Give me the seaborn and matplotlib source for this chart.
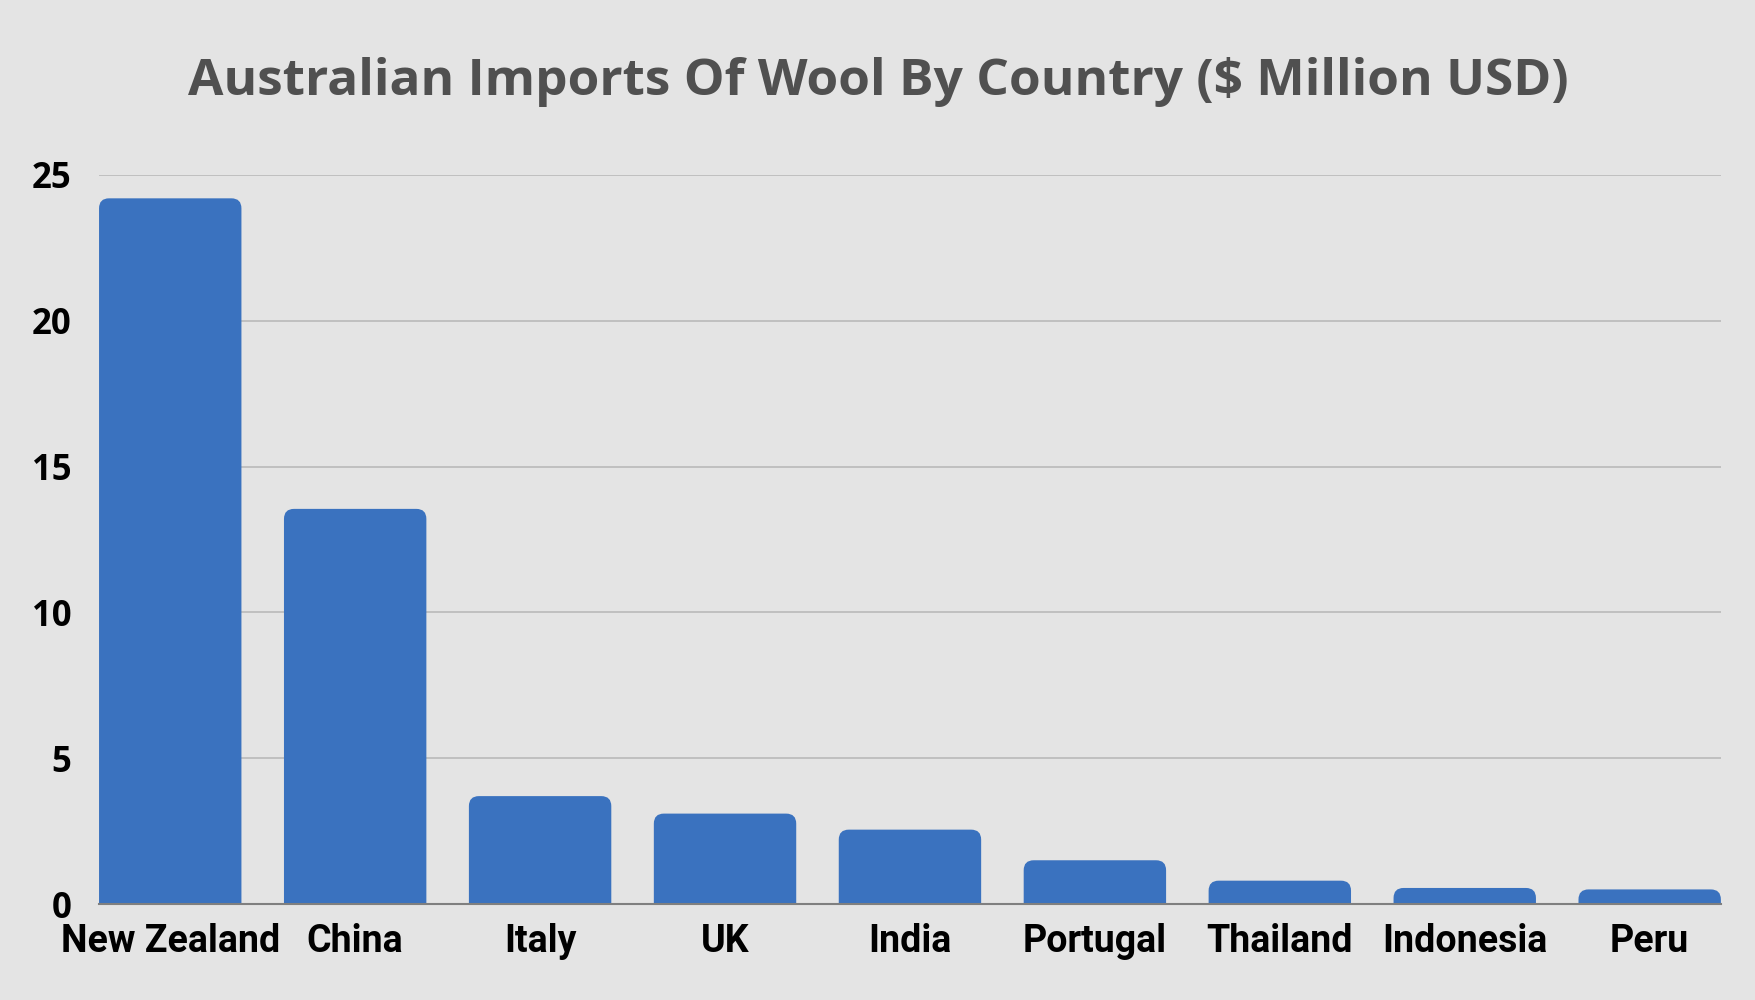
import numpy as np
import pandas as pd
import matplotlib.pyplot as plt
import seaborn as sns
from matplotlib.patches import FancyBboxPatch

# data ($ million USD)
countries = ['New Zealand', 'China', 'Italy', 'UK', 'India', 'Portugal',
             'Thailand', 'Indonesia', 'Peru']
imports = [24.2, 13.55, 3.7, 3.1, 2.55, 1.5, 0.8, 0.55, 0.5]
yticks = [0, 5, 10, 15, 20, 25]

bg = '#e4e4e4'
bar_color = '#3a72bf'

sns.set_style('white')
plt.rcParams['font.family'] = ['Roboto', 'DejaVu Sans']

df = pd.DataFrame({'Country': countries, 'Imports': imports})

fig = plt.figure(figsize=(17.56, 10), dpi=100, facecolor=bg)
ax = fig.add_axes([0.0564, 0.096, 0.9236, 0.729])
ax.set_facecolor(bg)

sns.barplot(data=df, x='Country', y='Imports', color=bar_color,
            width=0.77, saturation=1, ax=ax)

ax.set_xlim(-0.385, len(countries) - 1 + 0.385)
ax.set_ylim(0, 25)
ax.set_yticks(yticks)
ax.set_yticklabels([str(t) for t in yticks])

# swap plain bars for bars with rounded tops
fig.canvas.draw()
inv = ax.transData.inverted()
px_x = abs(inv.transform((1, 0))[0] - inv.transform((0, 0))[0])
px_y = abs(inv.transform((0, 1))[1] - inv.transform((0, 0))[1])
r_px = 10
for p in list(ax.patches):
    x, w, h = p.get_x(), p.get_width(), p.get_height()
    r = min(r_px, h / px_y * 0.9)
    ry = r * px_y
    rb = FancyBboxPatch((x, -ry), w, h + ry,
                        boxstyle=f'round,pad=0,rounding_size={r * px_x}',
                        mutation_aspect=px_y / px_x,
                        facecolor=bar_color, edgecolor='none', zorder=3)
    p.remove()
    ax.add_patch(rb)

ax.grid(axis='y', color='#bdbdbd', linewidth=1.3, zorder=0)
ax.set_axisbelow(True)
for s in ['top', 'right', 'left']:
    ax.spines[s].set_visible(False)
ax.spines['bottom'].set_color('#7f7f7f')
ax.spines['bottom'].set_linewidth(1.5)
ax.spines['bottom'].set_zorder(4)

ax.tick_params(axis='both', length=0)
ax.tick_params(axis='y', pad=20)
ax.tick_params(axis='x', pad=14)
for lab in ax.get_yticklabels():
    lab.set_fontsize(25)
    lab.set_fontweight('bold')
    lab.set_color('black')
    lab.set_family(['Open Sans', 'DejaVu Sans'])
for lab in ax.get_xticklabels():
    lab.set_fontsize(27)
    lab.set_fontweight('bold')
    lab.set_color('black')
ax.set_xlabel('')
ax.set_ylabel('')

fig.text(0.5, 0.918, 'Australian Imports Of Wool By Country ($ Million USD)',
         ha='center', va='center', fontsize=37, fontweight='bold',
         color='#505050', family=['Open Sans', 'DejaVu Sans'])

fig.savefig('out.png', dpi=100, facecolor=bg)
